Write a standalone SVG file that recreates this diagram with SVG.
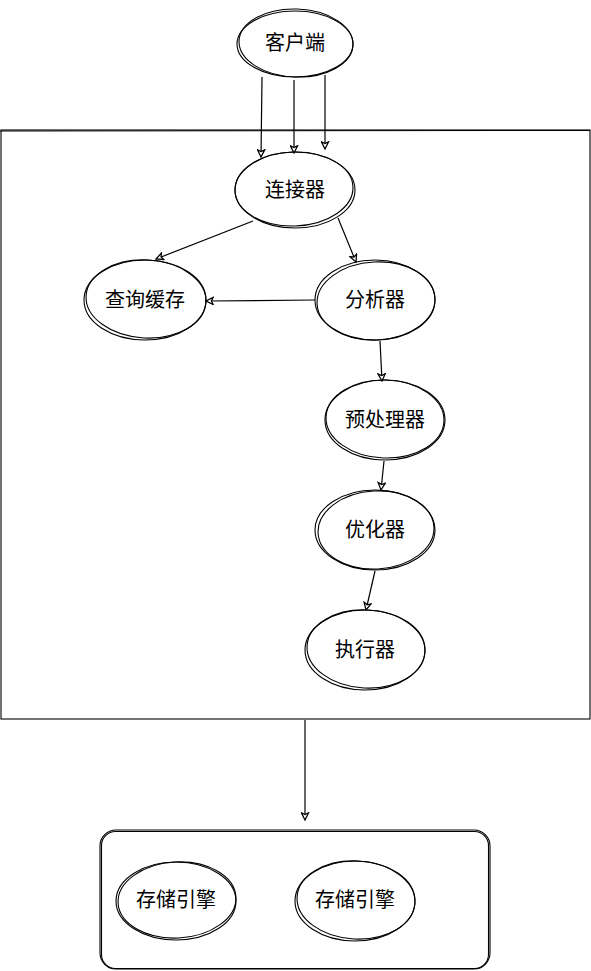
<svg xmlns="http://www.w3.org/2000/svg" width="591" height="971" viewBox="0 0 591 971">
<style>
.s{fill:none;stroke:#000;stroke-width:1.1}
.w{fill:#fff;stroke:#000;stroke-width:1.1}
.t{font-family:"Liberation Sans","Noto Sans CJK SC",sans-serif;font-size:20px;fill:#000;text-anchor:middle;dominant-baseline:central}
.c{fill:none;stroke:#000;stroke-width:1.2;marker-end:url(#a)}
</style>
<defs>
<marker id="a" viewBox="0 0 10 10" refX="9" refY="5" markerWidth="9" markerHeight="9" markerUnits="userSpaceOnUse" orient="auto">
<path d="M1,1 L9,5 L1,9 L3,5 Z" fill="#fff" stroke="#000" stroke-width="1.4"/>
</marker>
</defs>
<rect width="591" height="971" fill="#fff"/>
<g id="server">
<rect x="1" y="130" width="589" height="589" class="s"/>
<path d="M0,131 L590,130.5" class="s"/>
</g>
<g id="storage-box">
<rect x="100" y="830" width="390" height="139" rx="16" class="s"/>
<rect x="101.5" y="831.5" width="387" height="137" rx="14" class="s" stroke-width="0.8"/>
</g>
<g id="client">
<ellipse cx="295" cy="44" rx="58" ry="33" class="w"/>
<ellipse cx="296" cy="43" rx="57" ry="34" class="s" transform="rotate(2 296 43)"/>
<text x="295" y="43" class="t">客户端</text>
</g>
<g id="connector">
<ellipse cx="295" cy="190" rx="60" ry="38" class="w"/>
<ellipse cx="294" cy="189" rx="59" ry="37" class="s" transform="rotate(-2 294 189)"/>
<text x="295" y="190" class="t">连接器</text>
</g>
<g id="query-cache">
<ellipse cx="145" cy="300" rx="61" ry="40" class="w"/>
<ellipse cx="146" cy="299" rx="60" ry="39" class="s" transform="rotate(3 146 299)"/>
<text x="145" y="300" class="t">查询缓存</text>
</g>
<g id="analyzer">
<ellipse cx="375" cy="300" rx="60" ry="40" class="w"/>
<ellipse cx="376" cy="301" rx="59" ry="39" class="s" transform="rotate(-3 376 301)"/>
<text x="375" y="300" class="t">分析器</text>
</g>
<g id="preprocessor">
<ellipse cx="385" cy="420" rx="60" ry="40" class="w"/>
<ellipse cx="385" cy="419" rx="59" ry="39" class="s" transform="rotate(2 385 419)"/>
<text x="385" y="420" class="t">预处理器</text>
</g>
<g id="optimizer">
<ellipse cx="375" cy="530" rx="60" ry="40" class="w"/>
<ellipse cx="376" cy="530" rx="58" ry="39" class="s" transform="rotate(-3 376 530)"/>
<text x="375" y="530" class="t">优化器</text>
</g>
<g id="executor">
<ellipse cx="365" cy="650" rx="60" ry="40" class="w"/>
<ellipse cx="366" cy="649" rx="59" ry="39" class="s" transform="rotate(3 366 649)"/>
<text x="365" y="650" class="t">执行器</text>
</g>
<g id="engine1">
<ellipse cx="176" cy="901" rx="60" ry="39" class="w"/>
<ellipse cx="177" cy="900" rx="59" ry="38" class="s" transform="rotate(-3 177 900)"/>
<text x="176" y="900" class="t">存储引擎</text>
</g>
<g id="engine2">
<ellipse cx="355" cy="901" rx="60" ry="40" class="w"/>
<ellipse cx="356" cy="900" rx="59" ry="39" class="s" transform="rotate(3 356 900)"/>
<text x="355" y="900" class="t">存储引擎</text>
</g>
<g id="connectors">
<path d="M262,77 L261,157" class="c"/>
<path d="M294,80 L294,153" class="c"/>
<path d="M325,75 L325,149" class="c"/>
<path d="M253,221 L156,259" class="c"/>
<path d="M338,218 L356,262" class="c"/>
<path d="M315,300 L206,301" class="c"/>
<path d="M380,341 L382,381" class="c"/>
<path d="M384,461 L381,490" class="c"/>
<path d="M375,571 L366,610" class="c"/>
<path d="M305,720 L305,820" class="c"/>
</g>
</svg>
